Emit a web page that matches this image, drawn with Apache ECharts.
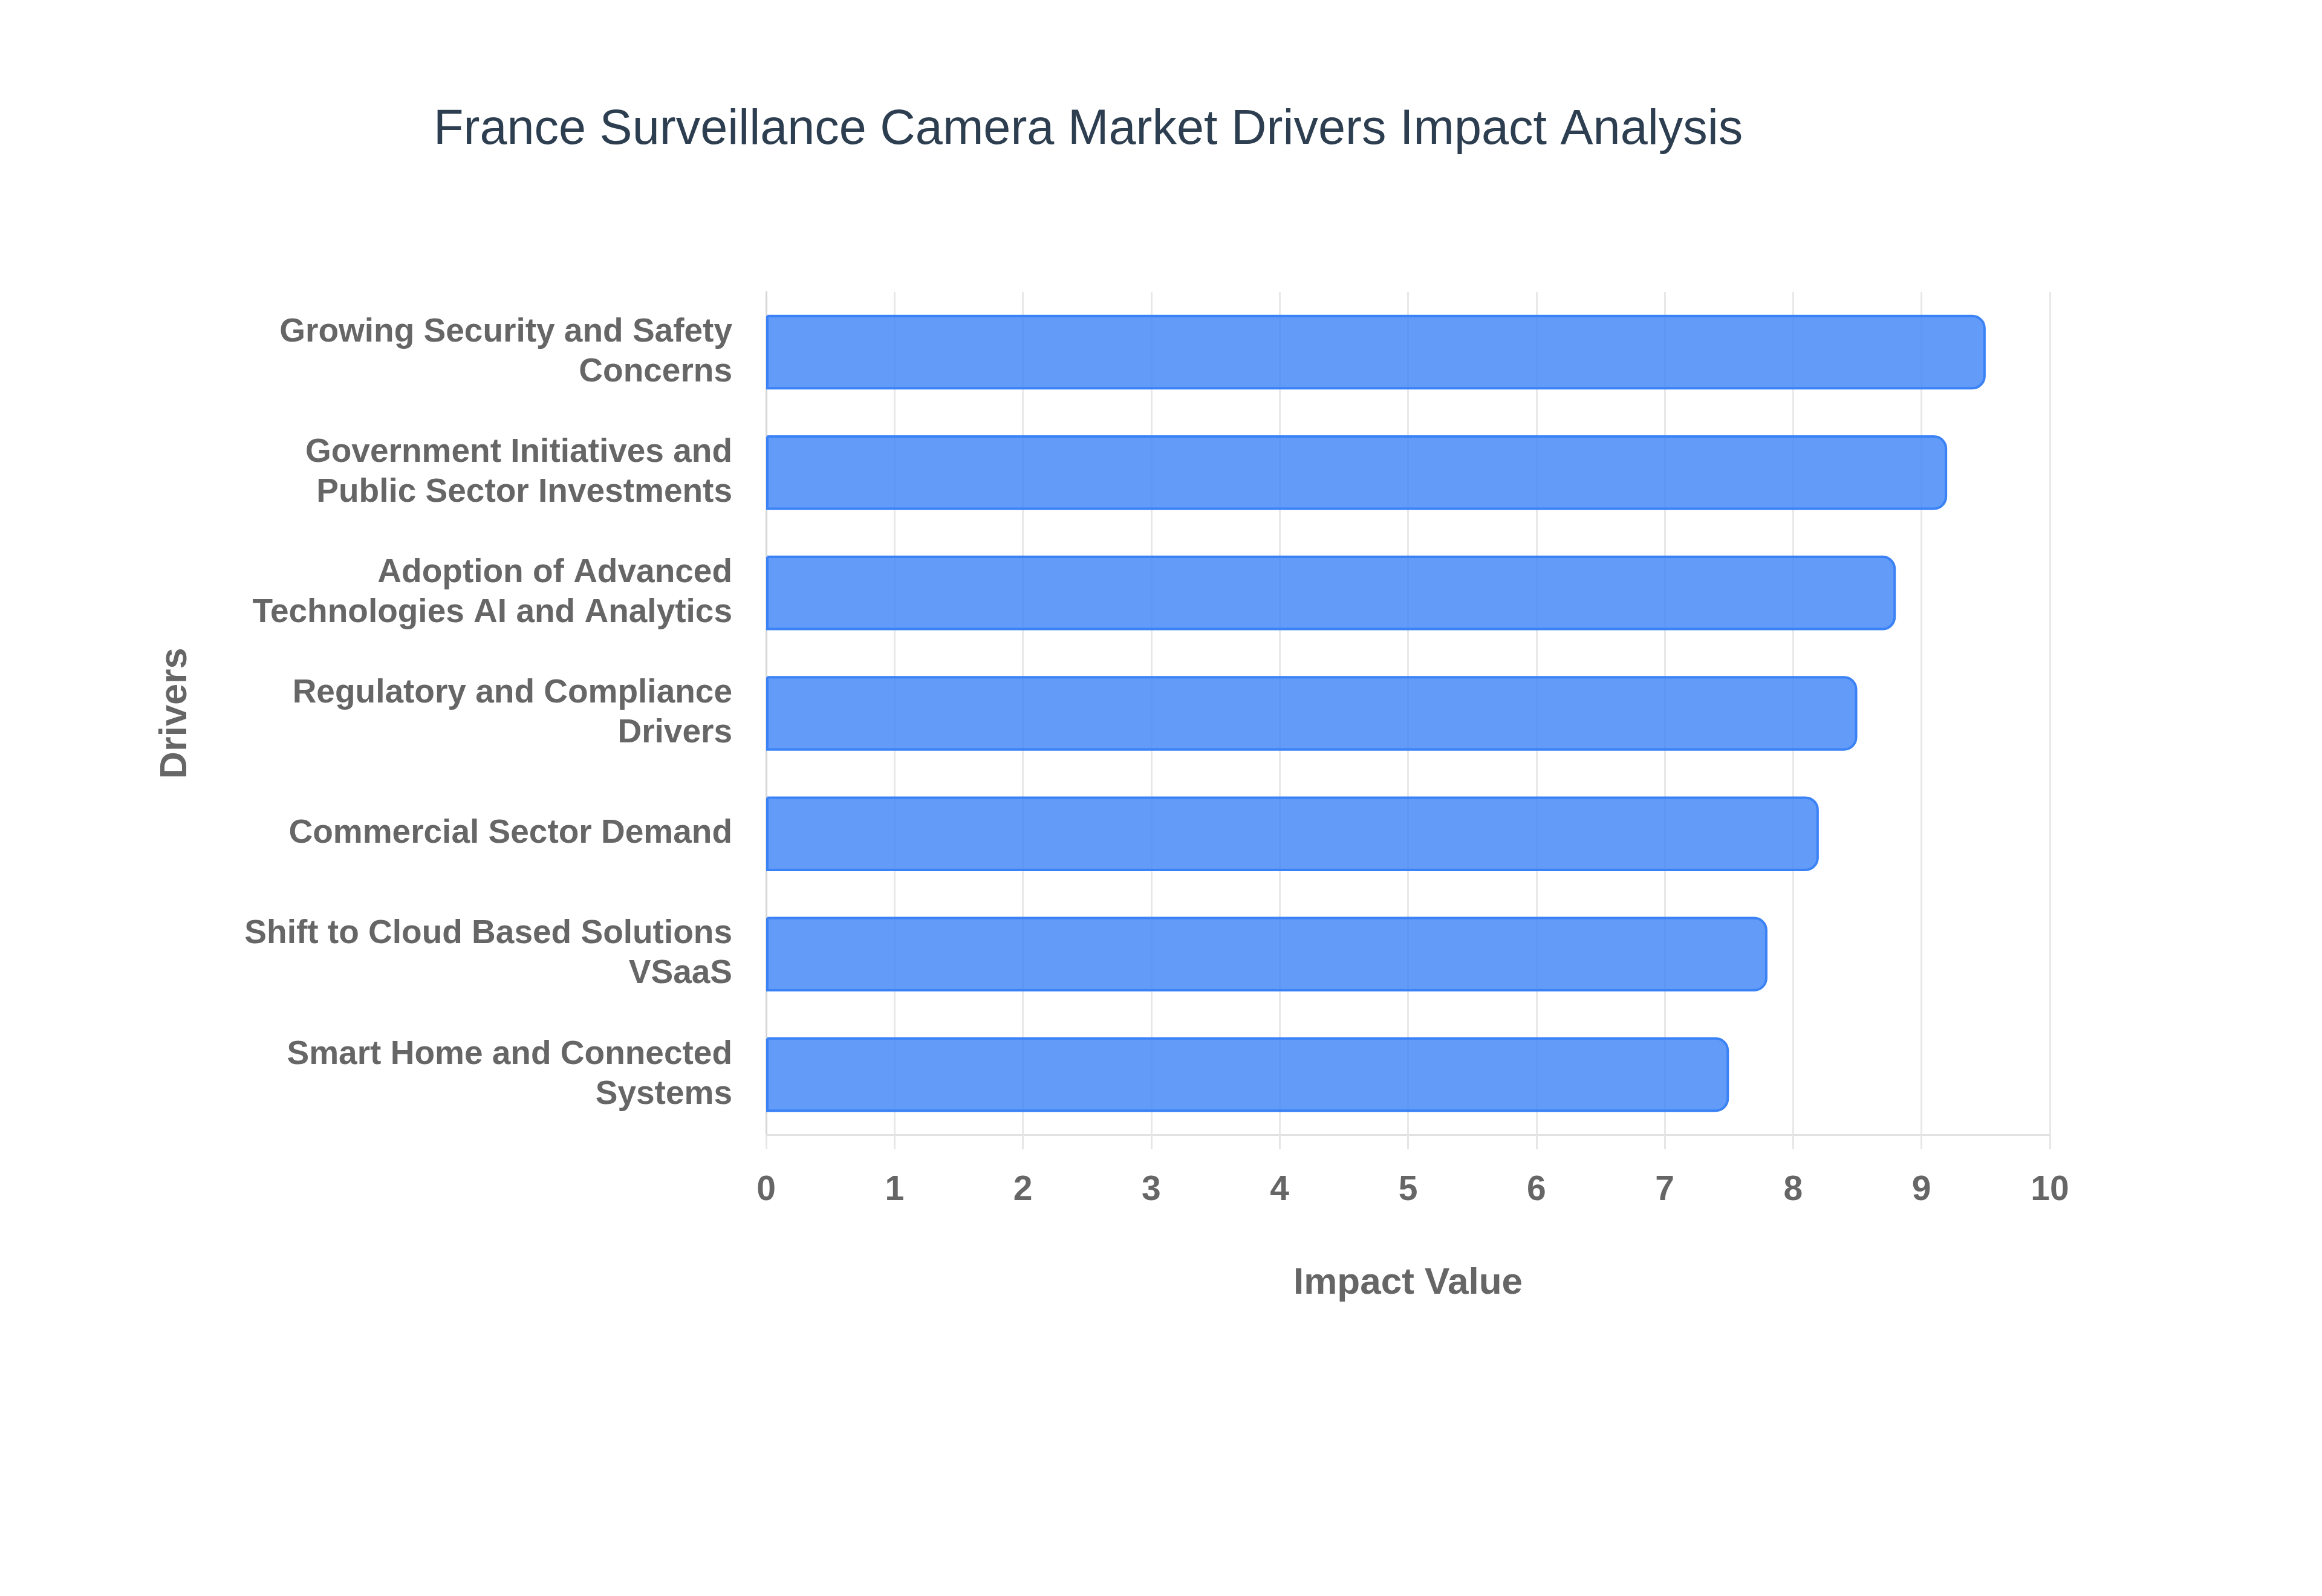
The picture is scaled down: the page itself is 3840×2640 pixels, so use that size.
<!DOCTYPE html>
<html>
<head>
<meta charset="utf-8">
<script src="https://cdn.jsdelivr.net/npm/echarts@6/dist/echarts.min.js"></script>
<style>
  html, body { margin: 0; padding: 0; background: #ffffff; }
  #chart { width: 3840px; height: 2640px; }
</style>
</head>
<body>
<div id="chart"></div>
<script>
const categories = [
  'Growing Security and Safety Concerns',
  'Government Initiatives and Public Sector Investments',
  'Adoption of Advanced Technologies AI and Analytics',
  'Regulatory and Compliance Drivers',
  'Commercial Sector Demand',
  'Shift to Cloud Based Solutions VSaaS',
  'Smart Home and Connected Systems'
];
const impactValues = [9.5, 9.2, 8.8, 8.5, 8.2, 7.8, 7.5];
const xTicks = [0, 1, 2, 3, 4, 5, 6, 7, 8, 9, 10];

const labelFont = "'Liberation Sans', Arial, Helvetica, sans-serif";
const labelSize = 55;
const wrapWidth = 850;

// Word-wrap a label to a maximum pixel width without trailing spaces.
const measureCtx = document.createElement('canvas').getContext('2d');
measureCtx.font = 'bold ' + labelSize + 'px ' + labelFont;
function wrapLabel(text) {
  const words = text.split(' ');
  const lines = [];
  let line = '';
  words.forEach(function (w) {
    const test = line ? line + ' ' + w : w;
    if (line && measureCtx.measureText(test).width > wrapWidth) {
      lines.push(line);
      line = w;
    } else {
      line = test;
    }
  });
  if (line) lines.push(line);
  return lines.join('\n');
}

const chart = echarts.init(document.getElementById('chart'), null, { renderer: 'canvas' });
chart.setOption({
  backgroundColor: '#ffffff',
  animation: false,
  title: {
    text: 'France Surveillance Camera Market Drivers Impact Analysis',
    left: 712,
    top: 170,
    textStyle: {
      fontFamily: "'Liberation Sans', Arial, sans-serif",
      fontSize: 81,
      fontWeight: 'normal',
      color: '#2c3e50'
    }
  },
  grid: {
    left: 1267,
    right: 3840 - 3390,
    top: 483,
    bottom: 2640 - 1877,
    containLabel: false
  },
  xAxis: {
    type: 'value',
    min: xTicks[0],
    max: xTicks[xTicks.length - 1],
    interval: 1,
    name: 'Impact Value',
    nameLocation: 'middle',
    nameGap: 215,
    nameTextStyle: {
      fontFamily: labelFont,
      fontSize: 62,
      fontWeight: 'bold',
      color: '#666666'
    },
    axisLine: { show: true, lineStyle: { color: '#e2e2e2', width: 3 } },
    axisTick: { show: true, length: 24, lineStyle: { color: '#e6e6e6', width: 3 } },
    axisLabel: {
      margin: 64,
      fontFamily: labelFont,
      fontSize: 57,
      fontWeight: 'bold',
      color: '#666666'
    },
    splitLine: { show: true, lineStyle: { color: '#e8e8e8', width: 3 } }
  },
  yAxis: {
    type: 'category',
    data: categories,
    inverse: true,
    name: 'Drivers',
    nameLocation: 'middle',
    nameGap: 945,
    nameTextStyle: {
      fontFamily: labelFont,
      fontSize: 63,
      fontWeight: 'bold',
      color: '#666666'
    },
    axisLine: { show: true, lineStyle: { color: '#d6d6d6', width: 3 } },
    axisTick: { show: false },
    axisLabel: {
      margin: 56,
      formatter: wrapLabel,
      lineHeight: 66,
      align: 'right',
      fontFamily: labelFont,
      fontSize: labelSize,
      fontWeight: 'bold',
      color: '#666666'
    },
    splitLine: { show: false }
  },
  series: [{
    type: 'bar',
    data: impactValues,
    barWidth: '62%',
    itemStyle: {
      color: 'rgba(59,130,246,0.8)',
      borderColor: '#3b82f6',
      borderWidth: 4,
      borderRadius: [0, 20, 20, 0]
    }
  }]
});
</script>
</body>
</html>
